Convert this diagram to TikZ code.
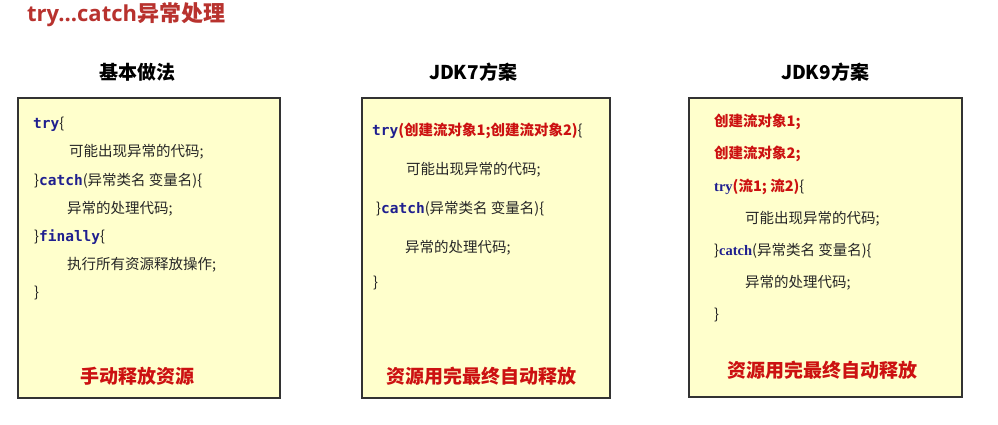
\documentclass[tikz,border=0pt]{standalone}
\usepackage{fontspec}
\setmainfont{Noto Sans CJK SC}
\newfontfamily\cjk{Noto Sans CJK SC}
\newfontfamily\kw{DejaVu Sans Mono}
\newfontfamily\kwserif{Liberation Serif}
\newfontfamily\titlef{Open Sans}
\definecolor{kwblue}{HTML}{1F1F8F}
\definecolor{redt}{HTML}{CC1111}
\definecolor{titler}{HTML}{B8322E}
\definecolor{boxy}{HTML}{FFFFCC}
\begin{document}
\begin{tikzpicture}[x=1pt,y=-1pt,
  box/.style={draw=black!80,line width=1.2pt,fill=boxy},
  code/.style={anchor=west,inner sep=0pt,font=\cjk\fontsize{14.5}{16}\selectfont,text=black!85},
  hdr/.style={inner sep=0pt,font=\cjk\bfseries\fontsize{19}{21}\selectfont},
  bot/.style={inner sep=0pt,font=\cjk\bfseries\fontsize{19}{21}\selectfont,text=redt}]
\useasboundingbox (0,0) rectangle (998,424);
\newcommand\K[1]{{\kw\bfseries\color{kwblue}#1}}
\newcommand\KS[1]{{\kwserif\bfseries\color{kwblue}#1}}
\node[anchor=west,inner sep=0pt,text=titler,font=\titlef\bfseries\fontsize{22}{24}\selectfont] (title) at (27,15) {try...catch{\cjk 异常处理}};
\node[hdr] (h1) at (137,72) {基本做法};
\node[hdr] (h2) at (473,72) {JDK7方案};
\node[hdr] (h3) at (825,72) {JDK9方案};
\draw[box] (18,98) rectangle (280,398);
\draw[box] (362,98) rectangle (610,398);
\draw[box] (689,98) rectangle (962,397);
% box1
\node[code] (a1) at (33,124) {\K{try}\{};
\node[code] (a2) at (69,152) {可能出现异常的代码;};
\node[code] (a3) at (34,181) {\}\K{catch}(异常类名 变量名)\{};
\node[code] (a4) at (67,209) {异常的处理代码;};
\node[code] (a5) at (34,237) {\}\K{finally}\{};
\node[code] (a6) at (67,265) {执行所有资源释放操作;};
\node[code] (a7) at (34,293) {\}};
\node[bot] (b1) at (137,376) {手动释放资源};
% box2
\node[code] (c1) at (372,131) {\K{try}{\color{redt}\bfseries(创建流对象1;创建流对象2)}\{};
\node[code] (c2) at (406,170) {可能出现异常的代码;};
\node[code] (c3) at (376,209) {\}\K{catch}(异常类名 变量名)\{};
\node[code] (c4) at (405,248) {异常的处理代码;};
\node[code] (c5) at (373,283) {\}};
\node[bot] (b2) at (481,376) {资源用完最终自动释放};
% box3
\node[code,text=redt,font=\cjk\bfseries\fontsize{14.5}{16}\selectfont] (d1) at (714,122) {创建流对象1;};
\node[code,text=redt,font=\cjk\bfseries\fontsize{14.5}{16}\selectfont] (d2) at (714,154) {创建流对象2;};
\node[code] (d3) at (714,187) {\KS{try}{\color{redt}\bfseries (流1; 流2)}\{};
\node[code] (d4) at (745,219) {可能出现异常的代码;};
\node[code] (d5) at (714,251) {\}\KS{catch}(异常类名 变量名)\{};
\node[code] (d6) at (745,283) {异常的处理代码;};
\node[code] (d7) at (714,315) {\}};
\node[bot] (b3) at (822,370) {资源用完最终自动释放};
\end{tikzpicture}
\end{document}
